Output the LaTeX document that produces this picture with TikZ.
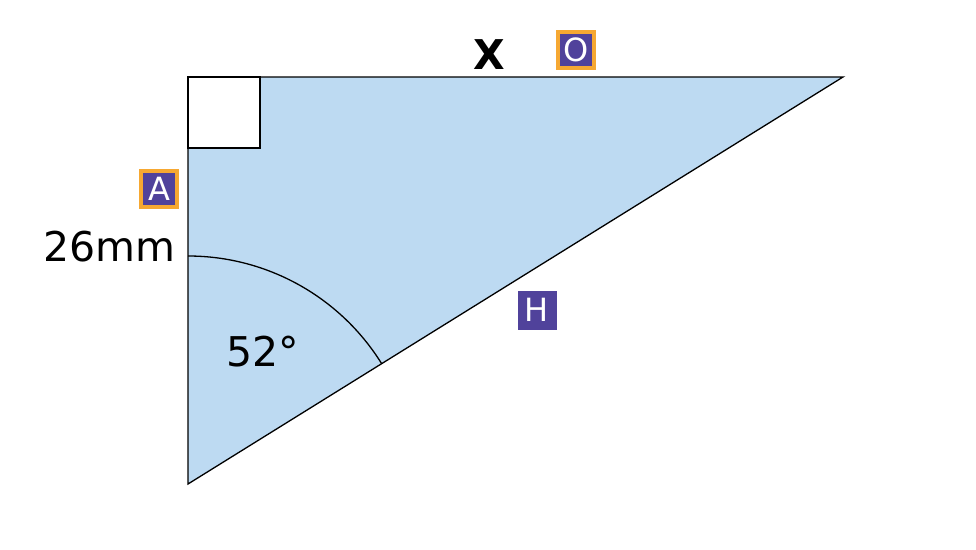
\documentclass[tikz,border=0pt]{standalone}
\usepackage{fontspec}
\setmainfont{DejaVu Sans}
\definecolor{triblue}{RGB}{189,218,242}
\definecolor{lblpurple}{RGB}{80,66,155}
\definecolor{lblorange}{RGB}{246,168,50}
\begin{document}
\begin{tikzpicture}[x=1pt,y=-1pt,
  lblbox/.style={fill=lblpurple,text=white,minimum width=36pt,minimum height=36pt,inner sep=0pt,font=\fontsize{32}{32}\selectfont},
  lblboxo/.style={lblbox,draw=lblorange,line width=3.5pt},
  bigtxt/.style={font=\fontsize{41}{41}\selectfont,inner sep=0pt}]
\useasboundingbox (0,0) rectangle (976,549);
\coordinate (TL) at (188,77);
\coordinate (TR) at (843,77);
\coordinate (B) at (188,484);
\filldraw[fill=triblue,draw=black,line width=1.3pt] (TL) -- (TR) -- (B) -- cycle;
\filldraw[fill=white,draw=black,line width=1.3pt] (TL) rectangle (260,148);
\draw[line width=1.3pt] (188,256) arc[start angle=-90,end angle=-31.86,radius=228];
\node[lblboxo] (O) at (576,50) {O};
\node[lblboxo] (A) at (159,189) {A};
\node[lblbox,minimum width=39pt,minimum height=39pt] (H) at (537,310) {H};
\node[bigtxt,font=\fontsize{41}{41}\selectfont\bfseries] (X) at (489,55) {X};
\node[bigtxt,anchor=east] (len) at (176,247) {26mm};
\node[bigtxt] (ang) at (263,352) {52°};
\end{tikzpicture}
\end{document}
